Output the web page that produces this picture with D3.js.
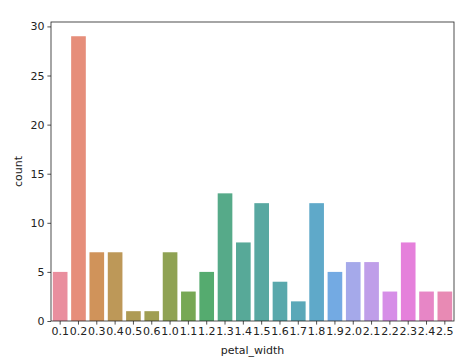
<!DOCTYPE html>
<html><head><meta charset="utf-8">
<script src="https://cdn.jsdelivr.net/npm/d3@7"></script>
<style>body{margin:0;background:#fff}svg{display:block}text{font-family:"DejaVu Sans",sans-serif}</style>
</head><body><svg id="c" width="474" height="363"></svg>
<script>
const categories = ["0.1","0.2","0.3","0.4","0.5","0.6","1.0","1.1","1.2","1.3","1.4","1.5","1.6","1.7","1.8","1.9","2.0","2.1","2.2","2.3","2.4","2.5"];
const counts = [5,29,7,7,1,1,7,3,5,13,8,12,4,2,12,5,6,6,3,8,3,3];
const yTicks = [0,5,10,15,20,25,30];
const xLabel = "petal_width";
const yLabel = "count";

// seaborn husl palette
function huslToRgb(H,S,L){
  const m=[[3.2406,-1.5372,-0.4986],[-0.9689,1.8758,0.0415],[0.0557,-0.2040,1.0570]];
  const refU=0.19784, refV=0.46834, refY=1.0;
  function maxChroma(L,H){
    const hr=H*Math.PI/180, sinH=Math.sin(hr), cosH=Math.cos(hr);
    const sub1=Math.pow(L+16,3)/1560896, sub2=sub1>0.008856?sub1:L/903.3;
    let res=Infinity;
    for(const [m1,m2,m3] of m){
      const top=(0.99915*m1+1.05122*m2+1.14460*m3)*sub2;
      const rb=0.86330*m3-0.17266*m2, lb=0.12949*m3-0.38848*m1;
      const bottom=(rb*sinH+lb*cosH)*sub2;
      for(const t of [0,1]){const C=L*(top-1.05122*t)/(bottom+0.17266*sinH*t); if(C>0&&C<res)res=C;}
    }
    return res;
  }
  const C=maxChroma(L,H)/100*S;
  const hr=H*Math.PI/180, U=C*Math.cos(hr), V=C*Math.sin(hr);
  const finv=t=>Math.pow(t,3)>0.008856?Math.pow(t,3):(116*t-16)/903.3;
  const vY=finv((L+16)/116), vU=U/(13*L)+refU, vV=V/(13*L)+refV;
  const Y=vY*refY, X=0-(9*Y*vU)/((vU-4)*vV-vU*vV), Z=(9*Y-15*vV*Y-vV*X)/(3*vV);
  const fl=c=>c<=0.0031308?12.92*c:1.055*Math.pow(c,1/2.4)-0.055;
  return m.map(r=>Math.min(1,Math.max(0,fl(r[0]*X+r[1]*Y+r[2]*Z))));
}
const n=categories.length;
const palette=d3.range(n).map(i=>{
  const h=((i/n)+0.01)%1*359;
  const [r,g,b]=huslToRgb(h,0.9*99,0.65*99);
  const c=d3.hsl(d3.rgb(r*255,g*255,b*255)); c.s*=0.75;
  return d3.interpolateRgb(c.formatHex(),"#ffffff")(0.1);
});

const svg=d3.select("#c");
const L=51,R=454,T=22,B=321;
const FS=11;
const x=d3.scaleBand().domain(categories).range([L,R]).paddingInner(0.2).paddingOuter(0.1);
const y=d3.scaleLinear().domain([0,30.45]).range([B,T]);

svg.selectAll("rect.bar").data(counts).enter().append("rect")
  .attr("x",(d,i)=>x(categories[i])).attr("width",x.bandwidth())
  .attr("y",d=>y(d)).attr("height",d=>B-y(d))
  .attr("fill",(d,i)=>palette[i]);

const xa=svg.append("g").attr("transform",`translate(0,${B})`)
  .call(d3.axisBottom(x).tickSizeInner(3.6).tickSizeOuter(0).tickPadding(3));
const ya=svg.append("g").attr("transform",`translate(${L},0)`)
  .call(d3.axisLeft(y).tickValues(yTicks).tickSizeInner(3.6).tickSizeOuter(0).tickPadding(3));
[xa,ya].forEach(a=>{a.select(".domain").remove();a.selectAll("line").attr("stroke","#222").attr("stroke-width",0.8);
  a.selectAll("text").attr("font-size",FS).attr("fill","#222").attr("font-family","DejaVu Sans");});

svg.append("rect").attr("x",L).attr("y",T).attr("width",R-L).attr("height",B-T)
  .attr("fill","none").attr("stroke","#222").attr("stroke-width",0.8);

svg.append("text").attr("x",(L+R)/2).attr("y",354).attr("text-anchor","middle")
  .attr("font-size",FS).attr("fill","#222").text(xLabel);
svg.append("text").attr("transform",`translate(22,${(T+B)/2}) rotate(-90)`).attr("text-anchor","middle")
  .attr("font-size",FS).attr("fill","#222").text(yLabel);
</script></body></html>
